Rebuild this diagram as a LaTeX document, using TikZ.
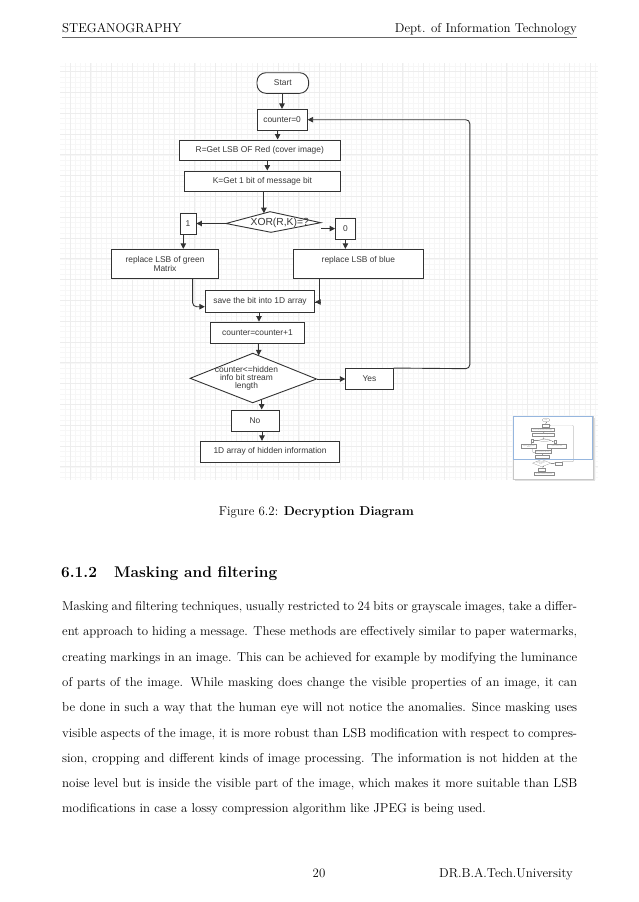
\documentclass[tikz,border=0pt]{standalone}
\usepackage{fontspec}
\newfontfamily\flowfont{Liberation Sans}
\usetikzlibrary{arrows.meta}
\colorlet{flc}{black!80}
\colorlet{ftc}{black!78}
\colorlet{gridmin}{black!3}
\colorlet{gridmaj}{black!7}
\definecolor{thumbblue}{RGB}{150,182,222}
\def\farrl{5.5pt}\def\farrw{5.5pt}\def\frc{4pt}\def\frs{9pt}
\newcommand\ffont{\flowfont\fontsize{8.4}{8.3}\selectfont}
\newcommand\xfont{\flowfont\fontsize{10.3}{10.3}\selectfont}
\newcommand\pagefont{\fontsize{12.87}{15.5}\selectfont}
\tikzset{
  fbox/.style={draw=flc, fill=white, text=ftc, font=\ffont, inner sep=0pt, minimum height=20.7, align=center},
  flabel/.style={text=ftc, font=\ffont, inner sep=0pt, align=center},
  fshape/.style={draw=flc, fill=white},
  fconn/.style={draw=flc},
  arr/.style={draw=flc, -{Triangle[length=\farrl, width=\farrw]}},
  pagetext/.style={inner sep=0pt, font=\pagefont, text=black},
}
\newcommand\drawflow{%
  \node[fbox, rounded corners=\frs, minimum width=51.6, minimum height=20.6] (start) at (282.8,83) {Start};
  \node[fbox, minimum width=50.2] (c0) at (282.1,119.7) {counter=0};
  \node[fbox, minimum width=160.5] (r) at (259.8,150.3) {R=Get LSB OF Red (cover image)};
  \node[fbox, minimum width=155.3] (k) at (262.4,181.3) {K=Get 1 bit of message bit};
  \coordinate (d1t) at (270,211.7);
  \coordinate (d1r) at (320.7,222.7);
  \coordinate (d1b) at (271,232.3);
  \coordinate (d1l) at (226,223.5);
  \draw[fshape] (d1t) -- (d1r) -- (d1b) -- (d1l) -- cycle;
  \node[flabel, font=\xfont] (xor) at (279.7,222.5) {XOR(R,K)=?};
  \node[fbox, minimum width=16, minimum height=21] (one) at (188,223.5) {1};
  \node[fbox, minimum width=19.8, minimum height=21] (zero) at (345.4,228.8) {0};
  \node[fbox, minimum width=106.7, minimum height=29.4] (green) at (165,264) {replace LSB of green\\Matrix};
  \node[fbox, minimum width=129.8, minimum height=29.4] (blue) at (358.4,264) {replace LSB of blue\\~};
  \node[fbox, minimum width=109.5, minimum height=21.3] (save) at (260,301.3) {save the bit into 1D array};
  \node[fbox, minimum width=94, minimum height=21] (c1) at (257.5,332.5) {counter=counter+1};
  \coordinate (d2t) at (252.8,353.3);
  \coordinate (d2r) at (316.5,379);
  \coordinate (d2b) at (252.7,402.7);
  \coordinate (d2l) at (190.2,378.3);
  \draw[fshape] (d2t) -- (d2r) -- (d2b) -- (d2l) -- cycle;
  \node[flabel, font=\flowfont\fontsize{8.4}{8}\selectfont] (cond) at (246.5,378.7) {counter<=hidden\\info bit stream\\length};
  \node[fbox, minimum width=47.5, minimum height=21] (yes) at (369.5,379) {Yes};
  \node[fbox, minimum width=48, minimum height=21.5] (no) at (255,420.7) {No};
  \node[fbox, minimum width=139, minimum height=21] (fin) at (270,451.8) {1D array of hidden information};
  % connectors
  \coordinate (a1) at ([xshift=-0.8]start.south);
  \draw[arr] (a1) -- (a1 |- c0.north);
  \coordinate (a2) at ([xshift=-4.5]c0.south);
  \draw[arr] (a2) -- (a2 |- r.north);
  \coordinate (a3) at ([xshift=7.5]r.south);
  \draw[arr] (a3) -- (a3 |- k.north);
  \coordinate (a4) at ([xshift=1.5]k.south);
  \coordinate (d1in) at (263.9,213.2);
  \draw[arr] (a4) -- (d1in);
  \draw[arr] (d1l) -- (d1l -| one.east);
  \coordinate (d1o) at (321,228.6);
  \draw[arr] (d1o) -- (d1o -| zero.west);
  \coordinate (a5) at ([xshift=-4.7]one.south);
  \draw[arr] (a5) -- (a5 |- green.north);
  \draw[arr] (zero.south) -- (zero.south |- blue.north);
  \coordinate (g1) at ([xshift=27.6]green.south);
  \coordinate (s1) at ([yshift=-5.4]save.west);
  \draw[arr, rounded corners=\frc] (g1) |- (s1);
  \coordinate (b1) at ([xshift=-39.4]blue.south);
  \coordinate (s2) at ([yshift=-0.7]save.east);
  \draw[fconn] (b1) |- (s2);
  \coordinate (s2a) at ([xshift=5.5]s2);
  \draw[arr] (s2a) -- (s2);
  \coordinate (a6) at ([xshift=-1]save.south);
  \draw[arr] (a6) -- (a6 |- c1.north);
  \coordinate (a7) at ([xshift=1.2]c1.south);
  \coordinate (d2in) at (258.7,355.4);
  \draw[arr] (a7) -- (d2in);
  \draw[arr] (d2r) -- (d2r -| yes.west);
  \coordinate (d2o) at (261.7,399.6);
  \draw[arr] (d2o) -- (d2o |- no.north);
  \coordinate (a8) at ([xshift=7]no.south);
  \draw[arr] (a8) -- (a8 |- fin.north);
  \coordinate (fb) at (469.8,368.7);
  \draw[arr, rounded corners=\frc] (yes.north east) -- (fb) |- (c0.east);
}
\begin{document}
\begin{tikzpicture}[x=1pt,y=-1pt]
  \fill[white] (0,0) rectangle (638,902);
  \useasboundingbox (0,0) rectangle (638,902);
  % header
  \node[pagetext, anchor=base west] (hl) at (62,32) {STEGANOGRAPHY};
  \node[pagetext, anchor=base east] (hr) at (577,32) {Dept. of Information Technology};
  \coordinate (rl) at (62,36.8);
  \coordinate (rr) at (577,36.8);
  \draw[black!60, line width=0.6] (rl) -- (rr);
  % grid background
  \foreach \i in {-1,...,101} \draw[gridmin, line width=0.4] ({70+5.2*\i},63) -- ({70+5.2*\i},480);
  \foreach \j in {-1,...,78} \draw[gridmin, line width=0.4] (60,{71.5+5.2*\j}) -- (598,{71.5+5.2*\j});
  \foreach \i in {0,...,25} \draw[gridmaj, line width=0.7] ({70+20.8*\i},63) -- ({70+20.8*\i},480);
  \foreach \j in {0,...,19} \draw[gridmaj, line width=0.7] (60,{71.5+20.8*\j}) -- (598,{71.5+20.8*\j});
  % main flowchart
  \begin{scope}[line width=0.9pt]
    \drawflow
  \end{scope}
  % thumbnail
  \fill[black!12] (514.5,417.5) rectangle (594.5,480.5);
  \draw[black!22, fill=white, line width=0.6] (513,416) rectangle (593,479);
  \begin{scope}[shift={(546,420)}, scale=0.146, shift={(-282.8,-83)}, every node/.append style={transform shape}, line width=0.2pt]
    \def\farrl{0.9pt}\def\farrw{0.9pt}\def\frc{0.6pt}\def\frs{1.3pt}
    \colorlet{flc}{black!45}\colorlet{ftc}{black!45}
    \drawflow
  \end{scope}
  \draw[thumbblue, line width=1.2] (513.6,416.6) rectangle (592.4,459.3);
  % caption
  \node[pagetext, anchor=base] (cap) at (316.4,515) {Figure 6.2: \textbf{Decryption Diagram}};
  % section
  \node[inner sep=0pt, anchor=base west, font=\fontsize{15.45}{18}\selectfont\bfseries] (secn) at (61,577) {6.1.2};
  \node[inner sep=0pt, anchor=base west, font=\fontsize{15.45}{18}\selectfont\bfseries] (sect) at (114,577) {Masking and filtering};
  % body
  \node[inner sep=0pt, anchor=base west, text width=515pt, align=justify, font=\fontsize{12.87}{25.3}\selectfont] (body) at (62,610.5) {\noindent Masking and filtering techniques, usually restricted to 24 bits or grayscale images, take a differ-\linebreak ent approach to hiding a message. These methods are effectively similar to paper watermarks,\linebreak creating markings in an image. This can be achieved for example by modifying the luminance\linebreak of parts of the image. While masking does change the visible properties of an image, it can\linebreak be done in such a way that the human eye will not notice the anomalies. Since masking uses\linebreak visible aspects of the image, it is more robust than LSB modification with respect to compres-\linebreak sion, cropping and different kinds of image processing. The information is not hidden at the\linebreak noise level but is inside the visible part of the image, which makes it more suitable than LSB\linebreak modifications in case a lossy compression algorithm like JPEG is being used.};
  % footer
  \node[pagetext, anchor=base] (pg) at (319,877) {20};
  \node[pagetext, anchor=base east] (uni) at (573,877) {DR.B.A.Tech.University};
\end{tikzpicture}
\end{document}
